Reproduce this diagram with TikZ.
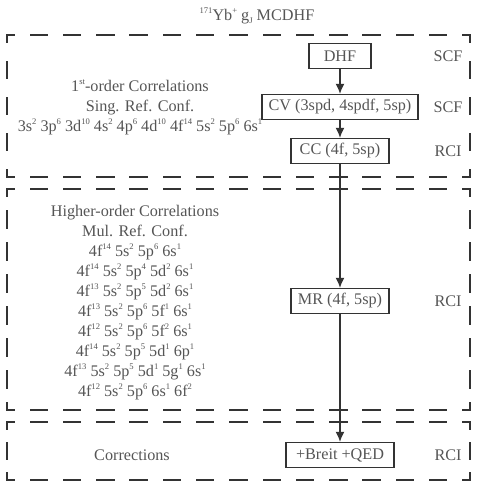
\documentclass[tikz,border=0pt]{standalone}
\usepackage{fontspec}
\setmainfont{Liberation Serif}
\usetikzlibrary{arrows.meta,positioning,calc}

\definecolor{inkgray}{HTML}{333333}
\definecolor{txtgray}{HTML}{555555}

% small raised and lowered indices
\newcommand{\sups}[1]{\raisebox{0.42em}{\fontsize{8.6}{8.6}\selectfont #1}}
\newcommand{\subs}[1]{\raisebox{-0.22em}{\fontsize{8.6}{8.6}\selectfont #1}}

\tikzset{
  stage/.style={draw=inkgray, line width=1.3pt, text=txtgray,
    minimum height=25pt, inner sep=0pt},
  frame/.style={draw=inkgray, line width=1.3pt, line cap=rect},
  flow/.style={draw=inkgray, line width=1.3pt,
    -{Latex[length=10pt,width=9pt]}},
  note/.style={text=txtgray, align=center},
  tag/.style={text=txtgray}
}

% one side of a frame: short piece at each corner, dashes between
\newcommand{\dashedge}[2]{%
  \draw[frame] let \p1=($#2-#1$),
    \n1={veclen(\x1,\y1)},
    \n2={max(1,round((\n1-30)/33))},
    \n3={(\n1-14-17*\n2)/(\n2+1)} in
    [dash pattern=on 17pt off \n3, dash phase=10pt] #1 -- #2;}

\newcommand{\dashframe}[4]{%
  \dashedge{(#1,#2)}{(#3,#2)}
  \dashedge{(#3,#2)}{(#3,#4)}
  \dashedge{(#3,#4)}{(#1,#4)}
  \dashedge{(#1,#4)}{(#1,#2)}}

\begin{document}
\begin{tikzpicture}[
  x=1pt,
  y=-1pt,
  line join=miter,
  font=\fontsize{16.2}{20}\selectfont
]

\useasboundingbox (0,0) rectangle (478,489);

% Title
\node[tag] (title) at (257,16) {\sups{171}Yb\sups{+} g\subs{J} MCDHF};

% Dashed frames for the three stages
\dashframe{7}{35}{470}{177}
\dashframe{7}{189}{470}{410}
\dashframe{7}{422}{470}{480}

% Calculation steps
\node[stage, minimum width=62pt]  (dhf)   at (340,56)  {DHF};
\node[stage, minimum width=156pt] (cv)    at (340,107) {CV (3spd, 4spdf, 5sp)};
\node[stage, minimum width=98pt]  (cc)    at (340,151) {CC (4f, 5sp)};
\node[stage, minimum width=98pt]  (mr)    at (340,301) {MR (4f, 5sp)};
\node[stage, minimum width=108pt] (breit) at (340,455) {+Breit +QED};

% Method tags on the right
\node[tag] (scfa) at (448,56)  {SCF};
\node[tag] (scfb) at (448,107) {SCF};
\node[tag] (rcia) at (448,151) {RCI};
\node[tag] (rcib) at (448,301) {RCI};
\node[tag] (rcic) at (448,455) {RCI};

% Configurations on the left
\node[note] (first) at (140,107) {%
  1\sups{st}-order Correlations\\
  Sing. Ref. Conf.\\
  3s\sups{2} 3p\sups{6} 3d\sups{10} 4s\sups{2} 4p\sups{6} 4d\sups{10} 4f\sups{14} 5s\sups{2} 5p\sups{6} 6s\sups{1}};

\node[note] (higher) at (135,302.5) {%
  Higher-order Correlations\\
  Mul. Ref. Conf.\\
  4f\sups{14} 5s\sups{2} 5p\sups{6} 6s\sups{1}\\
  4f\sups{14} 5s\sups{2} 5p\sups{4} 5d\sups{2} 6s\sups{1}\\
  4f\sups{13} 5s\sups{2} 5p\sups{5} 5d\sups{2} 6s\sups{1}\\
  4f\sups{13} 5s\sups{2} 5p\sups{6} 5f\sups{1} 6s\sups{1}\\
  4f\sups{12} 5s\sups{2} 5p\sups{6} 5f\sups{2} 6s\sups{1}\\
  4f\sups{14} 5s\sups{2} 5p\sups{5} 5d\sups{1} 6p\sups{1}\\
  4f\sups{13} 5s\sups{2} 5p\sups{5} 5d\sups{1} 5g\sups{1} 6s\sups{1}\\
  4f\sups{12} 5s\sups{2} 5p\sups{6} 6s\sups{1} 6f\sups{2}};

\node[note] (corr) at (132,455) {Corrections};

% Flow between steps
\draw[flow] (dhf) -- (cv);
\draw[flow] (cv) -- (cc);
\draw[flow] (cc) -- (mr);
\draw[flow] (mr) -- (breit);

\end{tikzpicture}
\end{document}
